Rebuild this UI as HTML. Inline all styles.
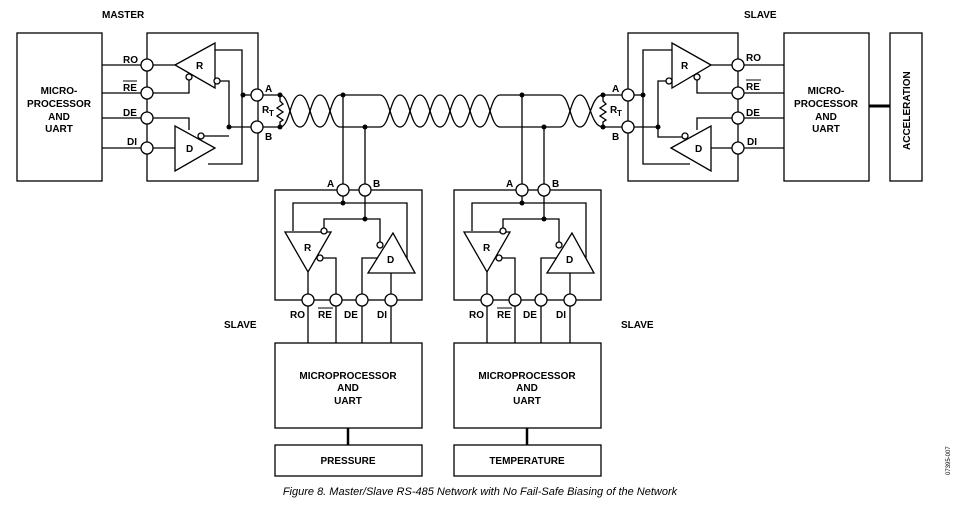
<!DOCTYPE html>
<html><head><meta charset="utf-8"><style>
html,body{margin:0;padding:0;background:#fff;width:959px;height:506px;overflow:hidden}
svg{display:block}
text{font-family:"Liberation Sans",Arial,sans-serif;font-weight:bold;font-size:10px;fill:#000}
</style></head><body>
<svg width="959" height="506" viewBox="0 0 959 506" xmlns="http://www.w3.org/2000/svg">
<g fill="none" stroke="#000" stroke-width="1.3">
<!-- MASTER -->
<rect x="17" y="33" width="85" height="148"/>
<rect x="147" y="33" width="111" height="148"/>
<line x1="102" y1="65" x2="147" y2="65"/><line x1="102" y1="93" x2="147" y2="93"/>
<line x1="102" y1="118" x2="147" y2="118"/><line x1="102" y1="148" x2="147" y2="148"/>
<polygon points="175,65 215,43 215,88" fill="#fff"/>
<polygon points="175,126 175,171 215,148" fill="#fff"/>
<line x1="153" y1="65" x2="175" y2="65"/>
<polyline points="153,93 189,93 189,80"/>
<polyline points="153,118 189,118 189,130"/>
<line x1="153" y1="148" x2="175" y2="148"/>
<polyline points="215,50 242,50 242,164 208,164"/>
<polyline points="220,81 229,81 229,127"/>
<polyline points="204,136 229,136"/>
<line x1="242" y1="95" x2="251" y2="95"/>
<line x1="229" y1="127" x2="251" y2="127"/>
<line x1="263" y1="95" x2="280" y2="95"/><line x1="263" y1="127" x2="280" y2="127"/>
<polyline points="280,95 280,101 283,104 277,108 283,112 277,116 283,120 280,122 280,127"/>
<!-- SLAVE right -->
<rect x="628" y="33" width="110" height="148"/>
<rect x="784" y="33" width="85" height="148"/>
<rect x="890" y="33" width="32" height="148"/>
<line x1="869" y1="106" x2="890" y2="106" stroke-width="3"/>
<line x1="744" y1="65" x2="784" y2="65"/><line x1="744" y1="93" x2="784" y2="93"/>
<line x1="744" y1="118" x2="784" y2="118"/><line x1="744" y1="148" x2="784" y2="148"/>
<polygon points="711,65 672,43 672,88" fill="#fff"/>
<polygon points="671,148 711,126 711,171" fill="#fff"/>
<line x1="711" y1="65" x2="732" y2="65"/>
<polyline points="697,80 697,93 732,93"/>
<polyline points="697,130 697,118 732,118"/>
<line x1="711" y1="148" x2="732" y2="148"/>
<polyline points="672,50 643,50 643,164 690,164"/>
<polyline points="666,81 658,81 658,137 682,137"/>
<line x1="634" y1="95" x2="643" y2="95"/>
<line x1="634" y1="127" x2="658" y2="127"/>
<line x1="603" y1="95" x2="622" y2="95"/><line x1="603" y1="127" x2="622" y2="127"/>
<polyline points="603,95 603,101 606,104 600,108 606,112 600,116 606,120 603,122 603,127"/>
<!-- cable -->
<path d="M280,95 C290,95 290,127 300,127 C310,127 310,95 320,95 C330,95 330,127 340,127 L380,127 C390,127 390,95 400,95 C410,95 410,127 420,127 C430,127 430,95 440,95 C450,95 450,127 460,127 C470,127 470,95 480,95 C490,95 490,127 500,127 L560,127 C570,127 570,95 580,95 C590,95 590,127 603,127"/>
<path d="M280,127 C290,127 290,95 300,95 C310,95 310,127 320,127 C330,127 330,95 340,95 L380,95 C390,95 390,127 400,127 C410,127 410,95 420,95 C430,95 430,127 440,127 C450,127 450,95 460,95 C470,95 470,127 480,127 C490,127 490,95 500,95 L560,95 C570,95 570,127 580,127 C590,127 590,95 603,95"/>
<line x1="343" y1="95" x2="343" y2="184"/><line x1="365" y1="127" x2="365" y2="184"/>
<line x1="522" y1="95" x2="522" y2="184"/><line x1="544" y1="127" x2="544" y2="184"/>
</g>
<g id="sl" fill="none" stroke="#000" stroke-width="1.3">
<rect x="275" y="190" width="147" height="110"/>
<line x1="343" y1="196" x2="343" y2="203"/><line x1="365" y1="196" x2="365" y2="219"/>
<polyline points="293,231 293,203 407,203 407,260"/>
<polyline points="324,228 324,219 380,219 380,242"/>
<polygon points="285,232 331,232 308,272" fill="#fff"/>
<polygon points="393,233 368,273 415,273" fill="#fff"/>
<line x1="308" y1="272" x2="308" y2="294"/>
<polyline points="323,258 336,258 336,294"/>
<polyline points="378,258 362,258 362,294"/>
<line x1="391" y1="273" x2="391" y2="294"/>
<line x1="308" y1="306" x2="308" y2="343"/><line x1="336" y1="306" x2="336" y2="343"/>
<line x1="362" y1="306" x2="362" y2="343"/><line x1="391" y1="306" x2="391" y2="343"/>
<rect x="275" y="343" width="147" height="85"/>
<line x1="348" y1="428" x2="348" y2="445" stroke-width="2.5"/>
<rect x="275" y="445" width="147" height="31"/>
<g fill="#fff">
<circle cx="343" cy="190" r="6"/><circle cx="365" cy="190" r="6"/>
<circle cx="308" cy="300" r="6"/><circle cx="336" cy="300" r="6"/><circle cx="362" cy="300" r="6"/><circle cx="391" cy="300" r="6"/>
<circle cx="324" cy="231" r="3"/><circle cx="320" cy="258" r="3"/><circle cx="380" cy="245" r="3"/>
</g>
<g fill="#000" stroke="none"><circle cx="343" cy="203" r="2.5"/><circle cx="365" cy="219" r="2.5"/></g>
</g>
<use href="#sl" x="179"/>
<g fill="#fff" stroke="#000" stroke-width="1.3">
<circle cx="147" cy="65" r="6"/><circle cx="147" cy="93" r="6"/><circle cx="147" cy="118" r="6"/><circle cx="147" cy="148" r="6"/>
<circle cx="257" cy="95" r="6"/><circle cx="257" cy="127" r="6"/>
<circle cx="189" cy="77" r="3"/><circle cx="217" cy="81" r="3"/><circle cx="201" cy="136" r="3"/>
<circle cx="738" cy="65" r="6"/><circle cx="738" cy="93" r="6"/><circle cx="738" cy="118" r="6"/><circle cx="738" cy="148" r="6"/>
<circle cx="628" cy="95" r="6"/><circle cx="628" cy="127" r="6"/>
<circle cx="669" cy="81" r="3"/><circle cx="697" cy="77" r="3"/><circle cx="685" cy="136" r="3"/>
</g>
<g fill="#000">
<circle cx="243" cy="95" r="2.5"/><circle cx="229" cy="127" r="2.5"/>
<circle cx="280" cy="95" r="2.5"/><circle cx="280" cy="127" r="2.5"/>
<circle cx="343" cy="95" r="2.5"/><circle cx="365" cy="127" r="2.5"/>
<circle cx="522" cy="95" r="2.5"/><circle cx="544" cy="127" r="2.5"/>
<circle cx="603" cy="95" r="2.5"/><circle cx="603" cy="127" r="2.5"/>
<circle cx="643" cy="95" r="2.5"/><circle cx="658" cy="127" r="2.5"/>
</g>
<g>
<text x="102" y="18">MASTER</text>
<text x="744" y="18">SLAVE</text>
<text x="59" y="94" text-anchor="middle">MICRO-</text>
<text x="59" y="107" text-anchor="middle">PROCESSOR</text>
<text x="59" y="120" text-anchor="middle">AND</text>
<text x="59" y="132" text-anchor="middle">UART</text>
<text x="123" y="63">RO</text><text x="123" y="91">RE</text><text x="123" y="116">DE</text><text x="127" y="145">DI</text>
<line x1="123" y1="81" x2="137" y2="81" stroke="#000" stroke-width="1"/>
<text x="196" y="69">R</text><text x="186" y="152">D</text>
<text x="265" y="92">A</text><text x="265" y="140">B</text>
<text x="262" y="113">R</text><text x="269" y="116" style="font-size:8px">T</text>
<text x="826" y="94" text-anchor="middle">MICRO-</text>
<text x="826" y="107" text-anchor="middle">PROCESSOR</text>
<text x="826" y="120" text-anchor="middle">AND</text>
<text x="826" y="132" text-anchor="middle">UART</text>
<text x="746" y="61">RO</text><text x="746" y="90">RE</text><text x="746" y="116">DE</text><text x="747" y="145">DI</text>
<line x1="746" y1="80" x2="761" y2="80" stroke="#000" stroke-width="1"/>
<text x="681" y="69">R</text><text x="695" y="152">D</text>
<text x="612" y="92">A</text><text x="612" y="140">B</text>
<text x="610" y="113">R</text><text x="617" y="116" style="font-size:8px">T</text>
<text transform="translate(910,150) rotate(-90)">ACCELERATION</text>
<text x="327" y="187">A</text><text x="373" y="187">B</text>
<text x="506" y="187">A</text><text x="552" y="187">B</text>
<text x="304" y="251">R</text><text x="387" y="263">D</text>
<text x="483" y="251">R</text><text x="566" y="263">D</text>
<text x="290" y="318">RO</text><text x="318" y="318">RE</text><text x="344" y="318">DE</text><text x="377" y="318">DI</text>
<text x="469" y="318">RO</text><text x="497" y="318">RE</text><text x="523" y="318">DE</text><text x="556" y="318">DI</text>
<line x1="318" y1="308" x2="333" y2="308" stroke="#000" stroke-width="1"/>
<line x1="497" y1="308" x2="512" y2="308" stroke="#000" stroke-width="1"/>
<text x="224" y="328">SLAVE</text><text x="621" y="328">SLAVE</text>
<text x="348" y="379" text-anchor="middle">MICROPROCESSOR</text>
<text x="348" y="391" text-anchor="middle">AND</text>
<text x="348" y="404" text-anchor="middle">UART</text>
<text x="527" y="379" text-anchor="middle">MICROPROCESSOR</text>
<text x="527" y="391" text-anchor="middle">AND</text>
<text x="527" y="404" text-anchor="middle">UART</text>
<text x="348" y="464" text-anchor="middle">PRESSURE</text>
<text x="527" y="464" text-anchor="middle">TEMPERATURE</text>
<text x="480" y="495" text-anchor="middle" style="font-weight:normal;font-style:italic;font-size:11px">Figure 8. Master/Slave RS-485 Network with No Fail-Safe Biasing of the Network</text>
<text transform="translate(950,475) rotate(-90)" style="font-weight:normal;font-size:6px">07395-007</text>
</g>
</svg>
</body></html>
